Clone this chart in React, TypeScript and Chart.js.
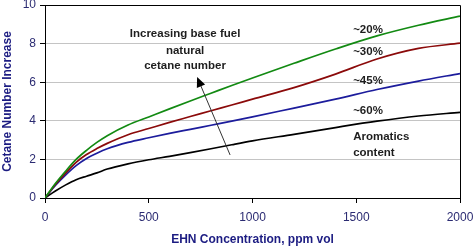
import React, { useEffect, useRef } from "react";
import { Chart, registerables } from "chart.js";

Chart.register(...registerables);

// EHN dose, ppm vol
const ehnPpm = [0, 50, 100, 150, 200, 250, 300, 400, 500, 600, 700, 800, 900, 1000, 1200, 1400, 1600, 1800, 2000];

// Cetane number increase by base fuel aromatics content
const aromatics20 = [0, 0.75, 1.4, 2.0, 2.47, 2.88, 3.23, 3.78, 4.2, 4.62, 5.03, 5.43, 5.83, 6.22, 6.98, 7.72, 8.4, 8.95, 9.42];
const aromatics30 = [0, 0.7, 1.3, 1.85, 2.25, 2.56, 2.83, 3.28, 3.6, 3.92, 4.22, 4.52, 4.82, 5.12, 5.72, 6.42, 7.2, 7.75, 8.02];
const aromatics45 = [0, 0.65, 1.2, 1.68, 2.05, 2.32, 2.55, 2.88, 3.12, 3.35, 3.56, 3.77, 3.98, 4.2, 4.66, 5.12, 5.62, 6.06, 6.45];
const aromatics60 = [0, 0.36, 0.68, 0.95, 1.13, 1.3, 1.5, 1.77, 1.98, 2.16, 2.35, 2.55, 2.76, 2.96, 3.3, 3.65, 3.98, 4.25, 4.44];

const seriesLabels = ["~20%", "~30%", "~45%", "~60%"];
const seriesColors = ["#128a12", "#8b0a0a", "#1c1c9c", "#000000"];

// Annotation text, placed in data coordinates
const trendLines = ["Increasing base fuel", "natural", "cetane number"];
const trendAt = { x: 675, y: [8.5, 7.63, 6.84] };
const arrowFrom = { x: 892, y: 2.23 };
const arrowTo = { x: 733, y: 6.27 };
const seriesLabelAt = { x: 1485, y: [8.72, 7.57, 6.07, 4.5] };
const footLines = ["Aromatics", "content"];
const footAt = { x: 1485, y: [3.17, 2.33] };

const FONT = "'Liberation Sans', Arial, sans-serif";

const annotations = {
  id: "annotations",
  afterDraw(chart: any) {
    const { ctx, chartArea, scales } = chart;
    const xs = scales.x;
    const ys = scales.y;
    ctx.save();
    // plot frame
    ctx.strokeStyle = "#000";
    ctx.lineWidth = 1;
    ctx.beginPath();
    ctx.moveTo(chartArea.left, chartArea.top + 0.5);
    ctx.lineTo(chartArea.right + 0.5, chartArea.top + 0.5);
    ctx.lineTo(chartArea.right + 0.5, chartArea.bottom);
    ctx.stroke();

    ctx.fillStyle = "#1e1e1e";
    ctx.font = `bold 11.5px ${FONT}`;
    ctx.textAlign = "center";
    ctx.textBaseline = "middle";
    trendLines.forEach((t, i) => {
      ctx.fillText(t, xs.getPixelForValue(trendAt.x), ys.getPixelForValue(trendAt.y[i]));
    });

    ctx.textAlign = "left";
    seriesLabels.forEach((t, i) => {
      ctx.fillText(t, xs.getPixelForValue(seriesLabelAt.x), ys.getPixelForValue(seriesLabelAt.y[i]));
    });
    footLines.forEach((t, i) => {
      ctx.fillText(t, xs.getPixelForValue(footAt.x), ys.getPixelForValue(footAt.y[i]));
    });

    // arrow
    const x0 = xs.getPixelForValue(arrowFrom.x);
    const y0 = ys.getPixelForValue(arrowFrom.y);
    const x1 = xs.getPixelForValue(arrowTo.x);
    const y1 = ys.getPixelForValue(arrowTo.y);
    const ang = Math.atan2(y1 - y0, x1 - x0);
    const headLen = 10;
    const headW = 4.5;
    ctx.strokeStyle = "#333";
    ctx.lineWidth = 1;
    ctx.beginPath();
    ctx.moveTo(x0, y0);
    ctx.lineTo(x1 - Math.cos(ang) * headLen * 0.8, y1 - Math.sin(ang) * headLen * 0.8);
    ctx.stroke();
    ctx.fillStyle = "#000";
    ctx.beginPath();
    ctx.moveTo(x1, y1);
    const bx = x1 - Math.cos(ang) * headLen;
    const by = y1 - Math.sin(ang) * headLen;
    ctx.lineTo(bx + Math.sin(ang) * headW, by - Math.cos(ang) * headW);
    ctx.lineTo(bx - Math.sin(ang) * headW, by + Math.cos(ang) * headW);
    ctx.closePath();
    ctx.fill();
    ctx.restore();
  },
};

export default function App() {
  const canvasRef = useRef<HTMLCanvasElement>(null);

  useEffect(() => {
    document.body.style.margin = "0";
    const series = [aromatics20, aromatics30, aromatics45, aromatics60];
    const chart = new Chart(canvasRef.current as HTMLCanvasElement, {
      type: "line",
      data: {
        datasets: series.map((vals, i) => ({
          label: seriesLabels[i],
          data: vals.map((v, j) => ({ x: ehnPpm[j], y: v })),
          borderColor: seriesColors[i],
          borderWidth: 1.7,
          pointRadius: 0,
          cubicInterpolationMode: "monotone" as const,
          fill: false,
        })),
      },
      options: {
        animation: false,
        responsive: false,
        devicePixelRatio: 1,
        layout: { padding: { top: 5, right: 14, left: 0, bottom: 0 } },
        plugins: { legend: { display: false }, tooltip: { enabled: false } },
        scales: {
          x: {
            type: "linear",
            min: 0,
            max: 2000,
            ticks: {
              stepSize: 500,
              color: "#2b2b72",
              font: { family: FONT, size: 12 },
              padding: 7,
              callback: (v: any) => String(v),
            },
            grid: {
              drawOnChartArea: false,
              drawTicks: true,
              tickLength: 5,
              tickColor: "#000",
            },
            border: { color: "#000", width: 1 },
            title: {
              display: true,
              text: "EHN Concentration, ppm vol",
              color: "#1c1c82",
              font: { family: FONT, size: 12, weight: "bold" },
              padding: { top: 0, bottom: 0 },
            },
            afterFit(scale: any) {
              scale.height = 49;
              scale.paddingLeft = 0;
              scale.paddingRight = 0;
            },
          },
          y: {
            min: 0,
            max: 10,
            ticks: {
              stepSize: 2,
              color: "#2b2b72",
              font: { family: FONT, size: 12 },
              padding: 4,
            },
            grid: {
              color: (c: any) => (c.tick && (c.tick.value === 0 || c.tick.value === 10) ? "rgba(0,0,0,0)" : "#c4c4c4"),
              tickColor: "#000",
              tickLength: 5,
            },
            border: { color: "#000", width: 1 },
            title: {
              display: true,
              text: "Cetane Number Increase",
              color: "#1c1c82",
              font: { family: FONT, size: 12, weight: "bold" },
              padding: { top: 0, bottom: 0 },
            },
            afterFit(scale: any) {
              scale.width = 45;
              scale.paddingTop = 0;
              scale.paddingBottom = 0;
            },
          },
        },
      },
      plugins: [annotations],
    });
    return () => chart.destroy();
  }, []);

  return (
    <div style={{ width: 474, height: 247, background: "#fff" }}>
      <canvas ref={canvasRef} width={474} height={247} style={{ display: "block" }} />
    </div>
  );
}
